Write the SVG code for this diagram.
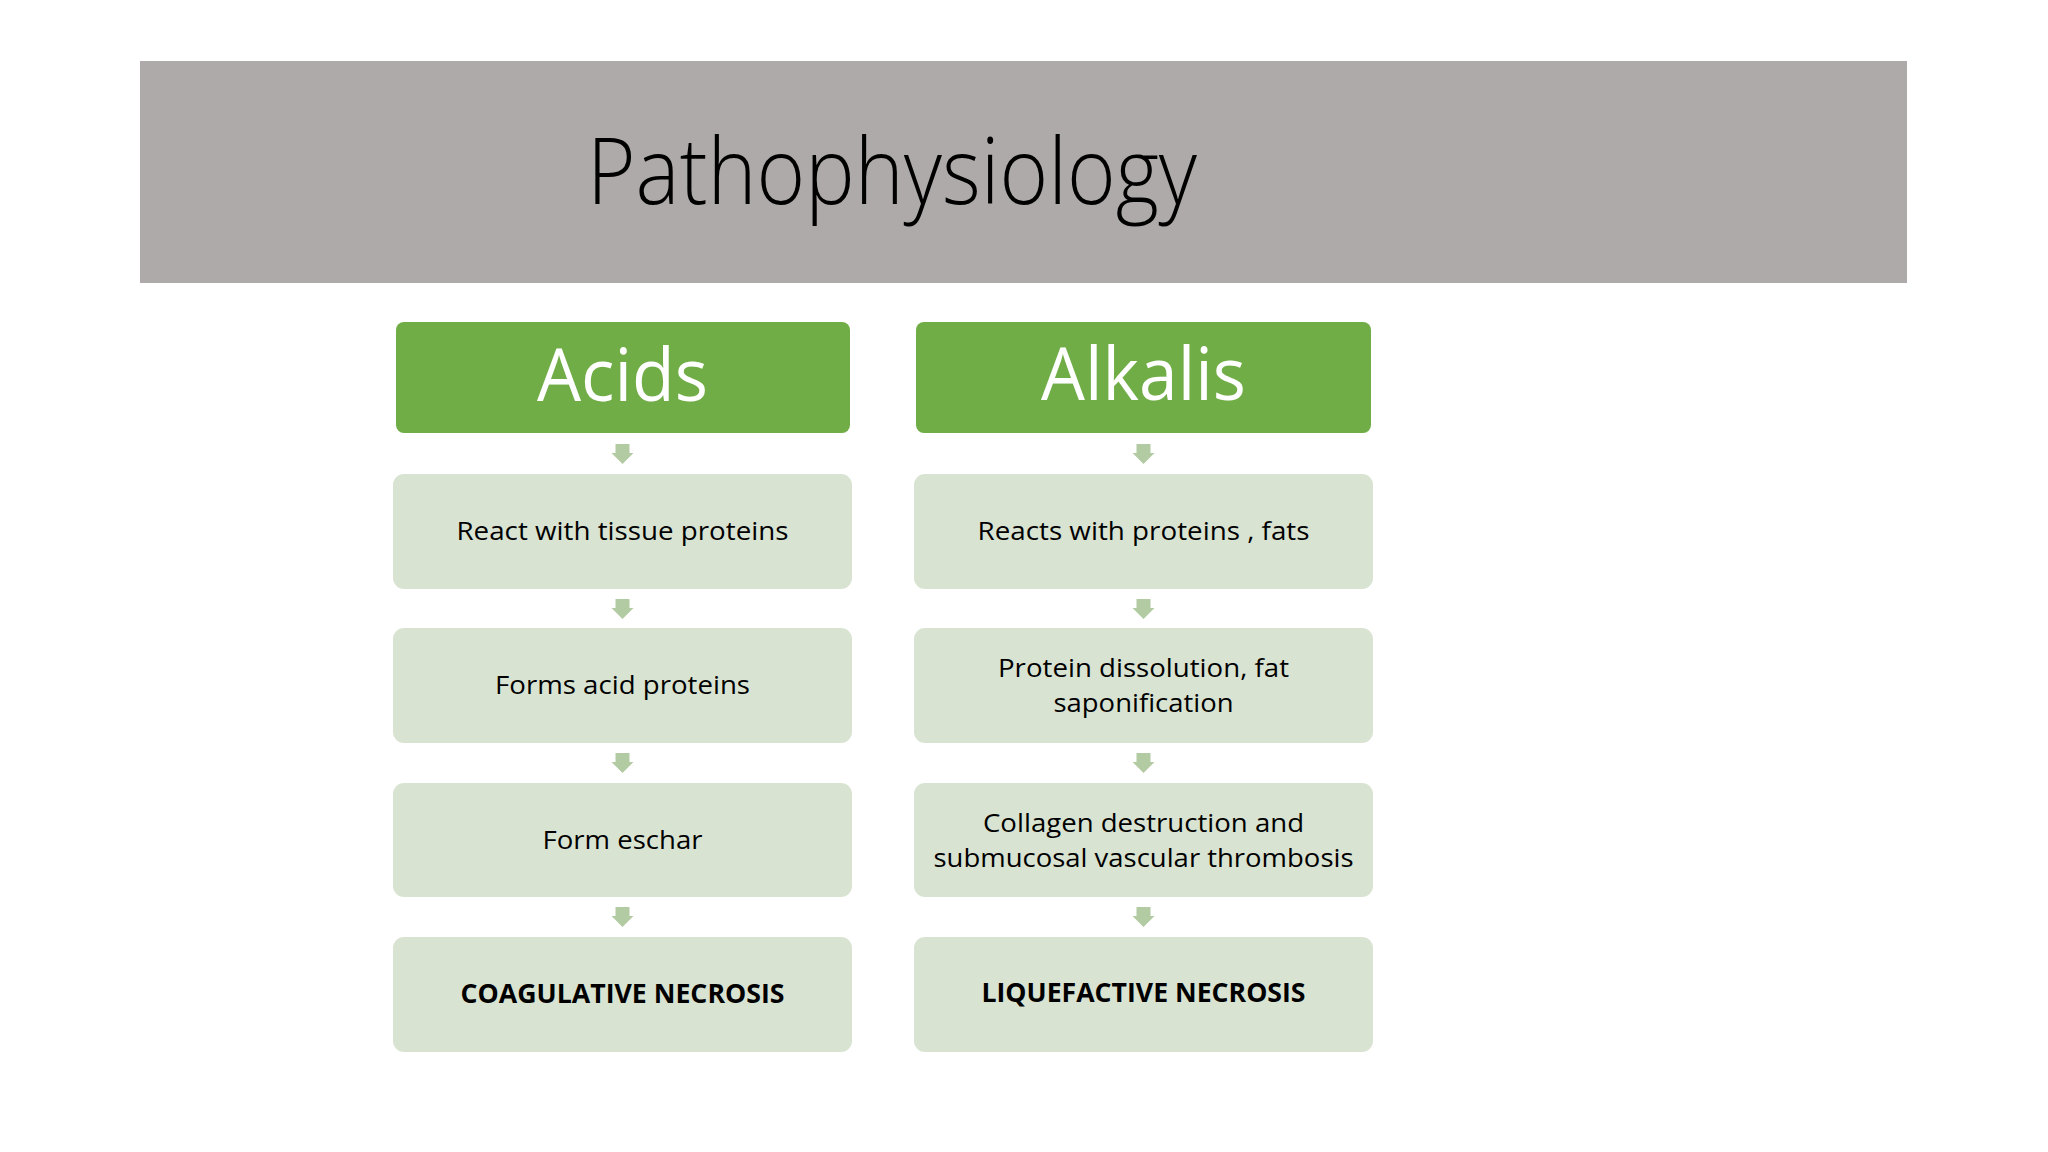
<svg xmlns="http://www.w3.org/2000/svg" width="2048" height="1152" viewBox="0 0 2048 1152">
<defs>
<style>
.hdr{fill:#70AD47}
.box{fill:#D9E3D2}
.arr{fill:#B3CBA3}
text{font-family:"Open Sans","Noto Sans","Liberation Sans",sans-serif;text-anchor:middle;fill:#000}
.t{font-size:26px}
.b{font-size:26px;font-weight:700}
.h{font-size:74px;fill:#fff}
.title{font-size:92px;font-weight:300;text-anchor:start}
</style>
<path id="ar" d="M-7,0 h14 v9 h4 l-11,11 l-11,-11 h4 z"/>
</defs>
<rect width="2048" height="1152" fill="#fff"/>
<g id="banner">
<rect x="140" y="61" width="1767" height="222" fill="#AFAAAA"/>
<text class="title" x="587" y="204" textLength="610" lengthAdjust="spacingAndGlyphs">Pathophysiology</text>
</g>
<g id="acids">
<rect class="hdr" x="396" y="322" width="454" height="111" rx="8"/>
<text class="h" x="622.5" y="401" textLength="171" lengthAdjust="spacingAndGlyphs">Acids</text>
</g>
<g id="alkalis">
<rect class="hdr" x="916" y="322" width="455" height="111" rx="8"/>
<text class="h" x="1143.5" y="400" textLength="205" lengthAdjust="spacingAndGlyphs">Alkalis</text>
</g>
<g id="a1">
<rect class="box" x="393" y="474" width="459" height="115" rx="11"/>
<text class="t" x="622.5" y="540" textLength="332" lengthAdjust="spacingAndGlyphs">React with tissue proteins</text>
</g>
<g id="a2">
<rect class="box" x="393" y="628" width="459" height="115" rx="11"/>
<text class="t" x="622.5" y="694" textLength="255" lengthAdjust="spacingAndGlyphs">Forms acid proteins</text>
</g>
<g id="a3">
<rect class="box" x="393" y="783" width="459" height="114" rx="11"/>
<text class="t" x="622.5" y="849" textLength="160" lengthAdjust="spacingAndGlyphs">Form eschar</text>
</g>
<g id="a4">
<rect class="box" x="393" y="937" width="459" height="115" rx="11"/>
<text class="b" x="622.5" y="1003" textLength="324" lengthAdjust="spacingAndGlyphs">COAGULATIVE NECROSIS</text>
</g>
<g id="k1">
<rect class="box" x="914" y="474" width="459" height="115" rx="11"/>
<text class="t" x="1143.5" y="540" textLength="332" lengthAdjust="spacingAndGlyphs">Reacts with proteins , fats</text>
</g>
<g id="k2">
<rect class="box" x="914" y="628" width="459" height="115" rx="11"/>
<text class="t" x="1143.5" y="677" textLength="291" lengthAdjust="spacingAndGlyphs">Protein dissolution, fat</text>
<text class="t" x="1143.5" y="712" textLength="180" lengthAdjust="spacingAndGlyphs">saponification</text>
</g>
<g id="k3">
<rect class="box" x="914" y="783" width="459" height="114" rx="11"/>
<text class="t" x="1143.5" y="832" textLength="321" lengthAdjust="spacingAndGlyphs">Collagen destruction and</text>
<text class="t" x="1143.5" y="867" textLength="420" lengthAdjust="spacingAndGlyphs">submucosal vascular thrombosis</text>
</g>
<g id="k4">
<rect class="box" x="914" y="937" width="459" height="115" rx="11"/>
<text class="b" x="1143.5" y="1002" textLength="324" lengthAdjust="spacingAndGlyphs">LIQUEFACTIVE NECROSIS</text>
</g>
<g id="connectors" class="arr">
<use href="#ar" x="622.5" y="444"/>
<use href="#ar" x="622.5" y="599"/>
<use href="#ar" x="622.5" y="753"/>
<use href="#ar" x="622.5" y="907"/>
<use href="#ar" x="1143.5" y="444"/>
<use href="#ar" x="1143.5" y="599"/>
<use href="#ar" x="1143.5" y="753"/>
<use href="#ar" x="1143.5" y="907"/>
</g>
</svg>
